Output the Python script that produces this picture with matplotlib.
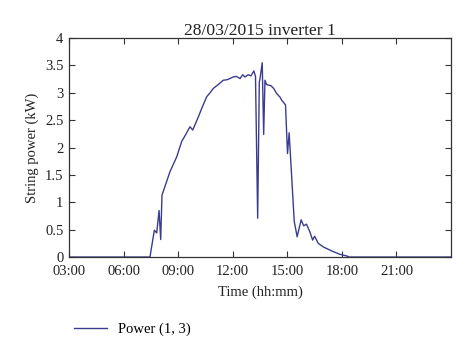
import matplotlib.pyplot as plt
from matplotlib.ticker import FuncFormatter

# Time of day in hours, string power in kW
hours = [3.0, 7.45, 7.69, 7.82, 7.95, 8.04, 8.11, 8.55, 8.92, 9.19, 9.35, 9.65,
         9.8, 10.11, 10.3, 10.57, 10.75, 10.93, 11.2, 11.48, 11.7, 12.03,
         12.2, 12.4, 12.55, 12.67, 12.85, 13.0, 13.16, 13.25,
         13.37, 13.46, 13.5, 13.62, 13.7, 13.77, 13.86, 14.1, 14.25, 14.41,
         14.6, 14.68, 14.9, 15.01, 15.1, 15.38, 15.54, 15.76, 15.9, 16.05,
         16.24, 16.39, 16.5, 16.7, 17.0, 17.52, 17.89, 18.26, 18.4, 24.0]
power = [0.0, 0.0, 0.49, 0.44, 0.85, 0.32, 1.13, 1.56, 1.83, 2.11, 2.2, 2.38,
         2.32, 2.56, 2.72, 2.93, 3.0, 3.08, 3.15, 3.23, 3.24, 3.29,
         3.3, 3.26, 3.33, 3.29, 3.33, 3.31, 3.40, 3.30,
         0.71, 3.2, 3.26, 3.55, 2.24, 3.23, 3.15, 3.13, 3.08, 2.99,
         2.92, 2.87, 2.78, 1.89, 2.27, 0.65, 0.37, 0.68, 0.57, 0.6,
         0.46, 0.31, 0.38, 0.25, 0.18, 0.1, 0.05, 0.02, 0.0, 0.0]

xticks = [3, 6, 9, 12, 15, 18, 21]

plt.rcParams['font.family'] = 'Liberation Serif'
plt.rcParams['font.size'] = 10.5

fig = plt.figure(figsize=(4.74, 3.56), dpi=100)
ax = fig.add_axes([0.1456, 0.278, 0.806, 0.615])

ax.plot(hours, power, color='#3c3c8e', linewidth=1.0, label='Power (1, 3)')

ax.set_xlim(3, 24)
ax.set_ylim(0, 4)
ax.set_xticks(xticks)
ax.xaxis.set_major_formatter(FuncFormatter(lambda v, p: '%02d:00' % int(v)))
ax.set_yticks([0, 0.5, 1, 1.5, 2, 2.5, 3, 3.5, 4])
ax.yaxis.set_major_formatter(FuncFormatter(lambda v, p: ('%g' % v)))

ax.tick_params(direction='in', top=True, right=True, length=4, width=0.8,
               colors='#333333', labelcolor='#222222')
ax.tick_params(axis='x', pad=6)
ax.tick_params(axis='y', pad=4)
for s in ax.spines.values():
    s.set_color('#333333')
    s.set_linewidth(0.9)

ax.set_xlabel('Time (hh:mm)', color='#222222', labelpad=5)
ax.set_ylabel('String power (kW)', color='#222222', labelpad=4)
ax.set_title('28/03/2015 inverter 1', color='#222222', pad=2)

ax.legend(loc='upper left', bbox_to_anchor=(-0.02, -0.24), frameon=False,
          handlelength=2.2, handletextpad=0.8)

fig.savefig('out.png', dpi=100)
